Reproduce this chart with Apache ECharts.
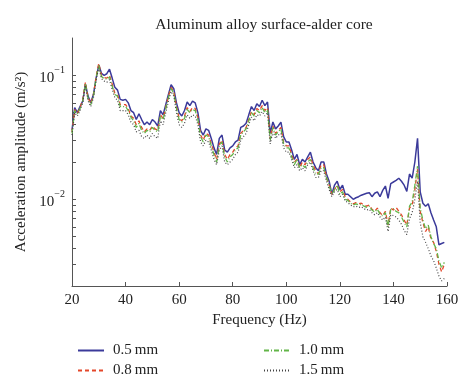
<!DOCTYPE html>
<html>
<head>
<meta charset="utf-8">
<script src="https://cdn.jsdelivr.net/npm/echarts@6/dist/echarts.min.js"></script>
<style>html,body{margin:0;padding:0;background:#fff}#c{width:474px;height:391px}</style>
</head>
<body>
<div id="c"></div>
<script>
// Frequency grid (Hz)
const freq = [20,21,22,23,24,25,26,27,28,29,30,31,32,33,34,35,36,37,38,39,
40,41,42,43,44,45,46,47,48,49,50,51,52,53,54,55,56,57,58,59,
60,61,62,63,64,65,66,67,68,69,70,71,72,73,74,75,76,77,78,79,
80,81,82,83,84,85,86,87,88,89,90,91,92,93,94,95,96,97,98,99,
100,101,102,103,104,105,106,107,108,109,110,111,112,113,114,115,116,117,118,119,
120,121,122,123,124,125,126,127,128,129,130,131,132,133,134,135,136,137,138,139,
140,141,142,143,144,145,146,147,148,149,150,151,152,153,154,155,156,157,158,159];

const s05 = [0.036,0.055,0.050,0.056,0.062,0.085,0.068,0.060,0.070,0.095,
0.121,0.104,0.100,0.103,0.112,0.095,0.080,0.076,0.064,0.063,
0.064,0.060,0.052,0.050,0.044,0.049,0.044,0.040,0.042,0.040,
0.044,0.042,0.039,0.052,0.048,0.058,0.070,0.084,0.078,0.060,
0.050,0.047,0.052,0.061,0.057,0.062,0.060,0.050,0.036,0.033,
0.037,0.036,0.031,0.026,0.023,0.031,0.033,0.025,0.024,0.026,
0.027,0.029,0.030,0.038,0.039,0.041,0.048,0.056,0.052,0.059,
0.056,0.063,0.057,0.061,0.034,0.042,0.037,0.039,0.042,0.032,
0.029,0.029,0.025,0.021,0.023,0.019,0.021,0.020,0.022,0.024,
0.020,0.018,0.017,0.020,0.020,0.016,0.014,0.011,0.013,0.014,
0.012,0.013,0.011,0.011,0.0105,0.010,0.0103,0.0105,0.0108,0.011,
0.0112,0.0113,0.0105,0.0112,0.0115,0.0105,0.0118,0.0128,0.0102,0.0134,
0.0138,0.0142,0.0148,0.0140,0.0130,0.0116,0.0160,0.0148,0.0200,0.031,
0.0115,0.0093,0.0088,0.0092,0.0078,0.0068,0.0060,0.0043,0.0044,0.0045];

const s08 = [0.035,0.053,0.049,0.055,0.063,0.088,0.066,0.059,0.070,0.097,
0.125,0.100,0.096,0.095,0.100,0.085,0.072,0.070,0.058,0.058,
0.058,0.054,0.047,0.045,0.040,0.043,0.038,0.035,0.037,0.036,
0.039,0.037,0.036,0.048,0.045,0.055,0.068,0.080,0.074,0.056,
0.045,0.043,0.047,0.055,0.051,0.055,0.054,0.046,0.033,0.030,
0.034,0.033,0.028,0.024,0.021,0.028,0.030,0.023,0.021,0.023,
0.024,0.026,0.027,0.034,0.036,0.038,0.044,0.051,0.048,0.054,
0.052,0.057,0.052,0.055,0.031,0.039,0.034,0.036,0.038,0.029,
0.027,0.027,0.023,0.020,0.021,0.018,0.020,0.019,0.021,0.022,
0.019,0.017,0.016,0.019,0.019,0.015,0.013,0.011,0.012,0.013,
0.0115,0.012,0.0105,0.010,0.0095,0.0092,0.0094,0.0092,0.0093,0.0090,
0.0088,0.0090,0.0083,0.0080,0.0085,0.0078,0.0074,0.0080,0.0062,0.0085,
0.0082,0.0086,0.0080,0.0075,0.0068,0.0062,0.0085,0.0090,0.0120,0.0175,
0.0080,0.0065,0.0055,0.0060,0.0048,0.0045,0.0038,0.0030,0.0026,0.0030];

const s10 = [0.034,0.052,0.049,0.054,0.062,0.086,0.065,0.058,0.068,0.095,
0.120,0.098,0.094,0.093,0.097,0.082,0.070,0.068,0.056,0.056,
0.056,0.052,0.046,0.043,0.038,0.041,0.036,0.034,0.036,0.035,
0.038,0.036,0.035,0.047,0.044,0.054,0.066,0.078,0.072,0.054,
0.044,0.042,0.045,0.053,0.050,0.053,0.052,0.044,0.032,0.029,
0.033,0.032,0.027,0.023,0.020,0.027,0.029,0.022,0.020,0.022,
0.023,0.025,0.026,0.033,0.035,0.037,0.043,0.050,0.047,0.052,
0.050,0.055,0.050,0.053,0.030,0.038,0.033,0.035,0.037,0.028,
0.026,0.026,0.022,0.019,0.021,0.018,0.019,0.018,0.020,0.021,
0.018,0.016,0.016,0.018,0.018,0.015,0.013,0.011,0.012,0.013,
0.011,0.0115,0.010,0.0098,0.0093,0.0090,0.0092,0.0090,0.0091,0.0088,
0.0086,0.0088,0.0082,0.0079,0.0083,0.0076,0.0073,0.0078,0.0060,0.0083,
0.0084,0.0080,0.0078,0.0072,0.0065,0.0060,0.0088,0.0095,0.0130,0.0185,
0.0085,0.0068,0.0058,0.0062,0.0050,0.0044,0.0040,0.0032,0.0028,0.0031];

const s15 = [0.033,0.050,0.047,0.052,0.060,0.083,0.062,0.056,0.066,0.092,
0.115,0.094,0.090,0.088,0.092,0.077,0.066,0.063,0.052,0.052,
0.052,0.048,0.042,0.040,0.035,0.036,0.032,0.031,0.033,0.031,
0.034,0.032,0.031,0.043,0.040,0.050,0.062,0.074,0.068,0.050,
0.040,0.038,0.041,0.048,0.045,0.048,0.047,0.040,0.029,0.027,
0.030,0.029,0.025,0.021,0.019,0.025,0.027,0.020,0.019,0.020,
0.021,0.023,0.024,0.030,0.032,0.034,0.040,0.046,0.043,0.048,
0.047,0.051,0.047,0.050,0.028,0.035,0.031,0.033,0.034,0.026,
0.024,0.024,0.021,0.018,0.019,0.017,0.018,0.017,0.019,0.020,
0.017,0.015,0.015,0.017,0.017,0.014,0.012,0.0105,0.0115,0.012,
0.0105,0.011,0.0097,0.0094,0.0090,0.0087,0.0088,0.0086,0.0087,0.0084,
0.0082,0.0083,0.0078,0.0075,0.0078,0.0072,0.0068,0.0072,0.0055,0.0075,
0.0074,0.0072,0.0068,0.0063,0.0056,0.0052,0.0070,0.0078,0.0100,0.0140,
0.0065,0.0050,0.0045,0.0040,0.0035,0.0032,0.0028,0.0024,0.0022,0.0023];

const seriesNames = ['0.5\u2009mm','0.8\u2009mm','1.0\u2009mm','1.5\u2009mm'];
const xTicks = [20,40,60,80,100,120,140,160];
const yLabelValues = [0.01, 0.1];
const yMinorTicks = [0.002,0.003,0.004,0.005,0.006,0.007,0.008,0.009,
0.01,0.02,0.03,0.04,0.05,0.06,0.07,0.08,0.09,0.1];

const FONT = '"Liberation Serif","DejaVu Serif",serif';
const pairs = arr => freq.map((f,i)=>[f,arr[i]]);

const chart = echarts.init(document.getElementById('c'), null, {renderer:'canvas'});
const axisColor = '#555';
const legendText = {fontFamily:FONT,fontSize:15,color:'#222',lineHeight:14,padding:[0,0,0,4]};
chart.setOption({
  animation:false,
  backgroundColor:'#fff',
  title:{text:'Aluminum alloy surface-alder core',left:259,top:12,textAlign:'center',
    textStyle:{fontFamily:FONT,fontSize:15.5,fontWeight:'normal',color:'#222'}},
  grid:{left:72,right:27,top:38,bottom:105,containLabel:false},
  legend:[
    {data:[seriesNames[0],seriesNames[1]],orient:'vertical',left:72,top:338,itemWidth:26,itemHeight:14,itemGap:5,
     itemStyle:{opacity:0},textStyle:legendText},
    {data:[seriesNames[2],seriesNames[3]],orient:'vertical',left:258,top:338,itemWidth:26,itemHeight:14,itemGap:5,
     itemStyle:{opacity:0},textStyle:legendText}
  ],
  xAxis:{type:'value',min:20,max:160,interval:20,
    name:'Frequency (Hz)',nameLocation:'middle',nameGap:26,
    nameTextStyle:{fontFamily:FONT,fontSize:15,color:'#222',verticalAlign:'top'},
    axisLine:{lineStyle:{color:axisColor,width:1}},
    axisTick:{inside:true,length:4,lineStyle:{color:axisColor}},
    axisLabel:{fontFamily:FONT,fontSize:15,color:'#222',margin:7},
    splitLine:{show:false}},
  yAxis:{type:'log',logBase:10,min:0.002,max:0.2,
    name:'Acceleration amplitude (m/s\u00b2)',nameLocation:'middle',nameGap:34,
    nameTextStyle:{fontFamily:FONT,fontSize:15,color:'#222'},
    axisLine:{show:true,lineStyle:{color:axisColor,width:1}},
    axisTick:{inside:true,length:4,customValues:yMinorTicks,lineStyle:{color:axisColor}},
    axisLabel:{customValues:yLabelValues,margin:7,
      formatter:function(v){return v>0.05?'{b|10}{s|\u22121}':'{b|10}{s|\u22122}';},
      rich:{b:{fontFamily:FONT,fontSize:15,color:'#222',lineHeight:20,verticalAlign:'bottom'},
            s:{fontFamily:FONT,fontSize:10,color:'#222',verticalAlign:'top'}}},
    splitLine:{show:false}},
  series:[
    {name:seriesNames[0],type:'line',data:pairs(s05),showSymbol:false,symbol:'none',
     lineStyle:{color:'#3b3a9a',width:1.5,type:'solid'},itemStyle:{color:'#3b3a9a'}},
    {name:seriesNames[1],type:'line',data:pairs(s08),showSymbol:false,symbol:'none',
     lineStyle:{color:'#e4472a',width:1.3,type:[4,3]},itemStyle:{color:'#e4472a'}},
    {name:seriesNames[2],type:'line',data:pairs(s10),showSymbol:false,symbol:'none',
     lineStyle:{color:'#62b548',width:1.3,type:[5,2,1,2]},itemStyle:{color:'#62b548'}},
    {name:seriesNames[3],type:'line',data:pairs(s15),showSymbol:false,symbol:'none',
     lineStyle:{color:'#444',width:1.2,type:[1,2]},itemStyle:{color:'#444'}}
  ]
});
</script>
</body>
</html>
